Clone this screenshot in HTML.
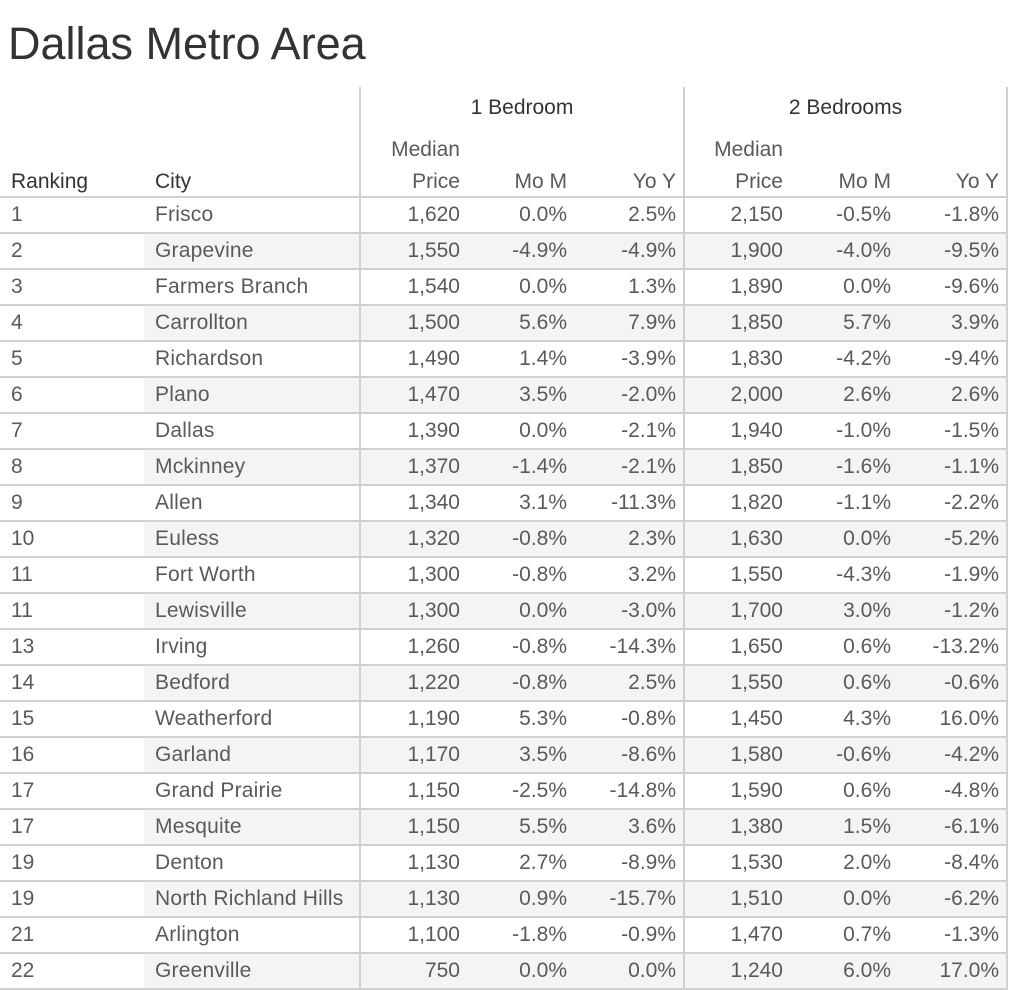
<!DOCTYPE html>
<html><head><meta charset="utf-8"><style>
*{margin:0;padding:0;box-sizing:border-box}
body{width:1012px;height:990px;background:#fff;position:relative;overflow:hidden;font-family:"Liberation Sans",sans-serif;color:#5a5a5a}
.t{position:absolute;white-space:nowrap;font-size:21px;line-height:36px;z-index:2}
.r{text-align:right}
.h{color:#333}
.ln{position:absolute;background:#d0d0d0;z-index:1}
.v{z-index:3}
.sh{position:absolute;background:#f4f4f4;left:144px;width:863px;height:36px;z-index:0}
</style></head><body>
<div class="t h" style="left:8px;top:16px;font-size:45px;line-height:56px;color:#333">Dallas Metro Area</div>
<div class="ln v" style="left:359px;top:87px;width:2px;height:902px"></div>
<div class="ln v" style="left:683px;top:87px;width:2px;height:902px"></div>
<div class="ln v" style="left:1006px;top:87px;width:2px;height:902px"></div>
<div class="t h" style="left:361px;width:322px;top:90px;text-align:center">1 Bedroom</div>
<div class="t h" style="left:685px;width:321px;top:90px;text-align:center">2 Bedrooms</div>
<div class="t h" style="left:11px;top:164px">Ranking</div>
<div class="t h" style="left:155px;top:164px">City</div>
<div class="t r" style="right:552px;top:132px">Median</div>
<div class="t r" style="right:552px;top:164px">Price</div>
<div class="t r" style="right:445px;top:164px">Mo M</div>
<div class="t r" style="right:336px;top:164px">Yo Y</div>
<div class="t r" style="right:229px;top:132px">Median</div>
<div class="t r" style="right:229px;top:164px">Price</div>
<div class="t r" style="right:121px;top:164px">Mo M</div>
<div class="t r" style="right:13px;top:164px">Yo Y</div>
<div id="rows"></div>
<script>
var d=[["1","Frisco","1,620","0.0%","2.5%","2,150","-0.5%","-1.8%"],
["2","Grapevine","1,550","-4.9%","-4.9%","1,900","-4.0%","-9.5%"],
["3","Farmers Branch","1,540","0.0%","1.3%","1,890","0.0%","-9.6%"],
["4","Carrollton","1,500","5.6%","7.9%","1,850","5.7%","3.9%"],
["5","Richardson","1,490","1.4%","-3.9%","1,830","-4.2%","-9.4%"],
["6","Plano","1,470","3.5%","-2.0%","2,000","2.6%","2.6%"],
["7","Dallas","1,390","0.0%","-2.1%","1,940","-1.0%","-1.5%"],
["8","Mckinney","1,370","-1.4%","-2.1%","1,850","-1.6%","-1.1%"],
["9","Allen","1,340","3.1%","-11.3%","1,820","-1.1%","-2.2%"],
["10","Euless","1,320","-0.8%","2.3%","1,630","0.0%","-5.2%"],
["11","Fort Worth","1,300","-0.8%","3.2%","1,550","-4.3%","-1.9%"],
["11","Lewisville","1,300","0.0%","-3.0%","1,700","3.0%","-1.2%"],
["13","Irving","1,260","-0.8%","-14.3%","1,650","0.6%","-13.2%"],
["14","Bedford","1,220","-0.8%","2.5%","1,550","0.6%","-0.6%"],
["15","Weatherford","1,190","5.3%","-0.8%","1,450","4.3%","16.0%"],
["16","Garland","1,170","3.5%","-8.6%","1,580","-0.6%","-4.2%"],
["17","Grand Prairie","1,150","-2.5%","-14.8%","1,590","0.6%","-4.8%"],
["17","Mesquite","1,150","5.5%","3.6%","1,380","1.5%","-6.1%"],
["19","Denton","1,130","2.7%","-8.9%","1,530","2.0%","-8.4%"],
["19","North Richland Hills","1,130","0.9%","-15.7%","1,510","0.0%","-6.2%"],
["21","Arlington","1,100","-1.8%","-0.9%","1,470","0.7%","-1.3%"],
["22","Greenville","750","0.0%","0.0%","1,240","6.0%","17.0%"]];
var rt=[552,445,336,229,121,13],h="";
for(var i=0;i<d.length;i++){var y=197+36*i;
if(i%2==1)h+='<div class="sh" style="top:'+y+'px"></div>';
h+='<div class="ln" style="left:0;top:'+(y-1)+'px;width:1008px;height:2px"></div>';
h+='<div class="t" style="left:11px;top:'+y+'px">'+d[i][0]+'</div>';
h+='<div class="t" style="left:155px;top:'+y+'px;letter-spacing:0.2px">'+d[i][1]+'</div>';
for(var j=0;j<6;j++)h+='<div class="t r" style="right:'+rt[j]+'px;top:'+y+'px">'+d[i][j+2]+'</div>';}
h+='<div class="ln" style="left:0;top:988px;width:1008px;height:2px"></div>';
document.getElementById('rows').innerHTML=h;
</script>
</body></html>
